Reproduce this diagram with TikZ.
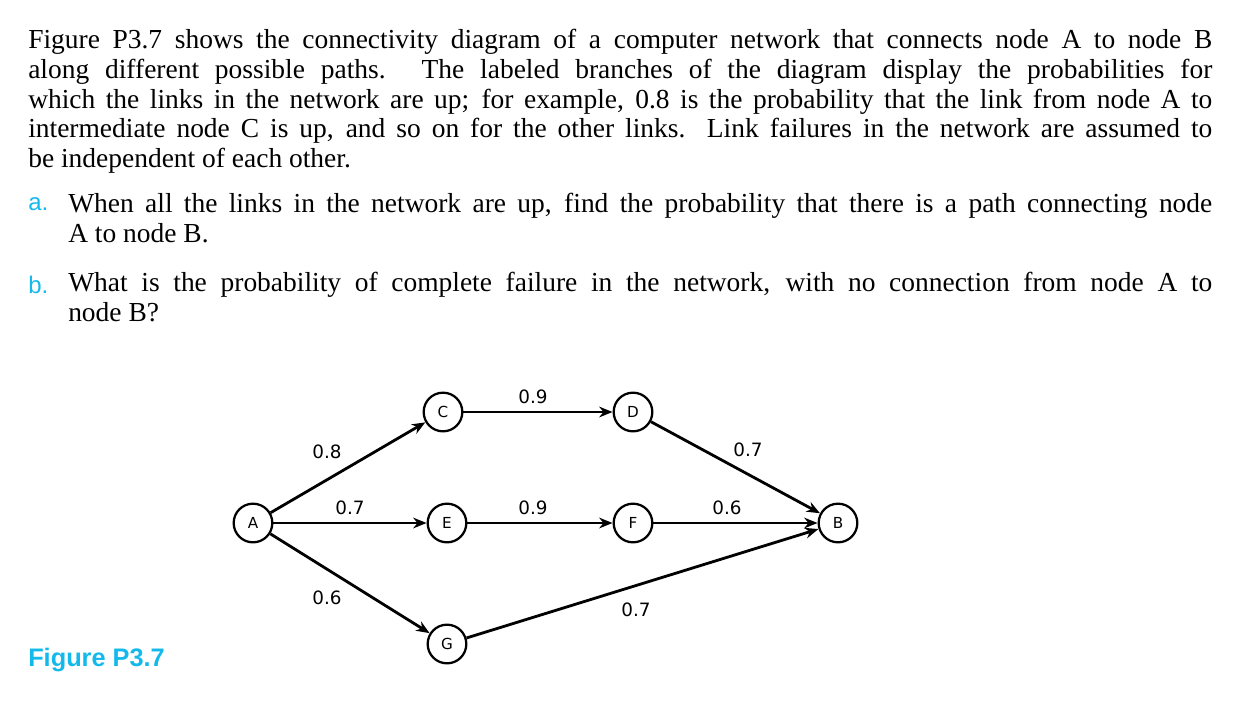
\documentclass[tikz,border=0pt]{standalone}
\usepackage{fontspec}
\setmainfont{Liberation Serif}
\setsansfont{Liberation Sans}
\newfontfamily\diagfont{DejaVu Sans}[Scale=0.95]
\definecolor{cyanlab}{RGB}{20,185,235}
\usetikzlibrary{arrows.meta}
\begin{document}
\begin{tikzpicture}[x=0.75pt,y=-0.75pt,
  para/.style={anchor=north west,inner sep=0pt,align=justify,font=\fontsize{20.6}{22.3}\selectfont},
  itm/.style={anchor=north west,inner sep=0pt,font=\sffamily\fontsize{18}{20}\selectfont,text=cyanlab},
  nd/.style={circle,draw,line width=1.7pt,minimum size=29pt,inner sep=0pt,font=\diagfont\fontsize{12}{13}\selectfont},
  lnk/.style={line width=2.1pt,-{Stealth[length=10pt,width=8pt]}},
  lab/.style={font=\diagfont\fontsize{14.5}{15}\selectfont,inner sep=0pt}]
\useasboundingbox (0,0) rectangle (1240,701);
\node[para,text width=888pt] (p) at (28,29) {Figure P3.7 shows the connectivity diagram of a computer network that connects node A to node B\linebreak along different possible paths. The labeled branches of the diagram display the probabilities for\linebreak which the links in the network are up; for example, 0.8 is the probability that the link from node A to\linebreak intermediate node C is up, and so on for the other links. Link failures in the network are assumed to\linebreak be independent of each other.};
\node[para,text width=858pt] (ia) at (68,193) {When all the links in the network are up, find the probability that there is a path connecting node\linebreak A to node B.};
\node[itm] (la) at (28,197) {a.};
\node[para,text width=858pt] (ib) at (68,272) {What is the probability of complete failure in the network, with no connection from node A to\linebreak node B?};
\node[itm] (lb) at (28,276) {b.};
\node[anchor=west,inner sep=0pt,font=\sffamily\bfseries\fontsize{19}{20}\selectfont,text=cyanlab] (fig) at (28,660) {Figure P3.7};

\node[nd] (A) at (253,523) {A};
\node[nd] (C) at (443,412) {C};
\node[nd] (D) at (633,412) {D};
\node[nd] (E) at (447,523) {E};
\node[nd] (F) at (633,523) {F};
\node[nd] (B) at (838,523) {B};
\node[nd] (G) at (447,644) {G};
\draw[lnk] (A) -- (C);
\draw[lnk] (A) -- (E);
\draw[lnk] (A) -- (G);
\draw[lnk] (C) -- (D);
\draw[lnk] (E) -- (F);
\draw[lnk] (D) -- (B);
\draw[lnk] (F) -- (B);
\draw[lnk] (G) -- (B);
\node[lab] (l1) at (327,452) {0.8};
\node[lab] (l2) at (350,508) {0.7};
\node[lab] (l3) at (533,397) {0.9};
\node[lab] (l4) at (533,508) {0.9};
\node[lab] (l5) at (748,450) {0.7};
\node[lab] (l6) at (727,508) {0.6};
\node[lab] (l7) at (327,598) {0.6};
\node[lab] (l8) at (636,610) {0.7};
\end{tikzpicture}
\end{document}
